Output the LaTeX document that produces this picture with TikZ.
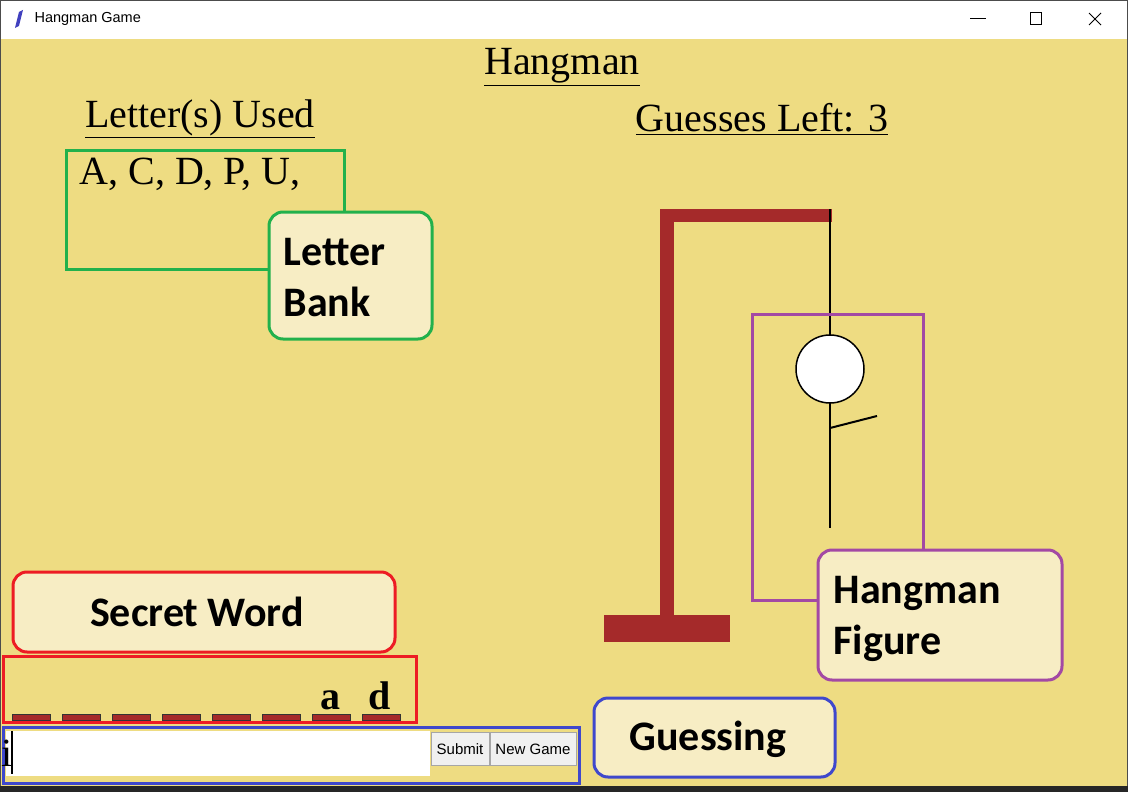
\documentclass[tikz,border=0pt]{standalone}
\usepackage{fontspec}
\setmainfont{Liberation Serif}
\newfontfamily\callfont{Carlito}
\newfontfamily\uifont{Liberation Sans}
\definecolor{bg}{RGB}{238,220,130}
\definecolor{callbg}{RGB}{247,237,196}
\definecolor{brn}{RGB}{165,42,42}
\definecolor{cgreen}{RGB}{34,177,76}
\definecolor{cpurple}{RGB}{163,73,164}
\definecolor{cred}{RGB}{237,28,36}
\definecolor{cblue}{RGB}{63,72,204}
\tikzset{
  callout/.style={draw=#1, line width=3pt, rounded corners=14pt, fill=callbg},
  frame/.style={draw=#1, line width=3pt},
  calltext/.style={font=\callfont\bfseries\fontsize{42}{51}\selectfont, align=left, anchor=west},
  gtext/.style={font=\fontsize{40}{44}\selectfont},
  slot/.style={draw=black!80, fill=brn, line width=0.6pt},
  btn/.style={draw=gray!70, fill=gray!12, font=\uifont\fontsize{15}{17}\selectfont}
}
\begin{document}
\begin{tikzpicture}[x=1pt,y=-1pt]
\useasboundingbox (0,0) rectangle (1128,792);
\fill[bg] (0,0) rectangle (1128,792);
\fill[white] (0,0) rectangle (1128,39);
\draw[black!70, line width=1pt] (0.5,0.5) rectangle (1127.5,791.5);
\fill[black!85] (0,786) rectangle (1128,792);
\node[font=\uifont\fontsize{14.5}{16}\selectfont, anchor=west] (ttl) at (31,19) {Hangman Game};
\fill[blue!50!gray] (15,28) -- (19,12) -- (23,10) -- (19,26) -- cycle;
\draw[line width=1pt] (970,19) -- (986,19);
\draw[line width=1pt] (1030,13) rectangle (1041,25);
\draw[line width=1pt] (1089,13) -- (1101,25) (1089,25) -- (1101,13);
% headings
\node[gtext] (title) at (562,67) {\underline{Hangman}};
\node[gtext] (used) at (200,119) {\underline{Letter(s) Used}};
\node[gtext] (left) at (762,119) {\underline{Guesses Left: 3}};
% letter bank
\draw[frame=cgreen] (66,150) rectangle (344,269);
\node[gtext, anchor=west] (letters) at (76,174) {A, C, D, P, U,};
\draw[callout=cgreen] (269,212) rectangle (432,339);
\node[calltext] (lb) at (280,278) {Letter\\Bank};
% gallows
\fill[brn] (660,209) rectangle (674,620);
\fill[brn] (660,209) rectangle (832,222);
\fill[brn] (604,615) rectangle (730,642);
\draw[line width=2pt] (830,209) -- (830,336);
\node[circle, draw, fill=white, line width=1.5pt, minimum size=68pt, inner sep=0] (head) at (830,369) {};
\draw[line width=2pt] (830,403) -- (830,528);
\draw[line width=2pt] (830,428) -- (877,416);
\draw[frame=cpurple] (752,314) rectangle (923,600);
\draw[callout=cpurple] (818,550) rectangle (1062,680);
\node[calltext] (hf) at (830,619) {Hangman\\Figure};
% secret word
\draw[callout=cred] (13,572) rectangle (395,652);
\node[calltext, anchor=center] (sw) at (197,612) {Secret Word};
\draw[frame=cred] (3,656) rectangle (416,722);
\foreach \i in {0,...,7} { \draw[slot] (12+50*\i,714) rectangle (50+50*\i,720); }
\node[font=\bfseries\fontsize{40}{42}\selectfont, anchor=base] (la) at (330,709) {a};
\node[font=\bfseries\fontsize{40}{42}\selectfont, anchor=base] (ld) at (380,709) {d};
% guessing
\draw[frame=cblue] (3,727) rectangle (579,783);
\fill[white] (6,731) rectangle (430,776);
\node[font=\fontsize{40}{42}\selectfont, anchor=base west, inner sep=0] (ent) at (1,766) {i};
\draw[line width=1.2pt] (12,731) -- (12,774);
\node[btn, minimum width=58pt, minimum height=33pt] (sub) at (460,749) {Submit};
\node[btn, minimum width=86pt, minimum height=33pt] (ng) at (533,749) {New Game};
\draw[callout=cblue] (594,698) rectangle (835,777);
\node[calltext, anchor=center] (gs) at (708,739) {Guessing};
\end{tikzpicture}
\end{document}
